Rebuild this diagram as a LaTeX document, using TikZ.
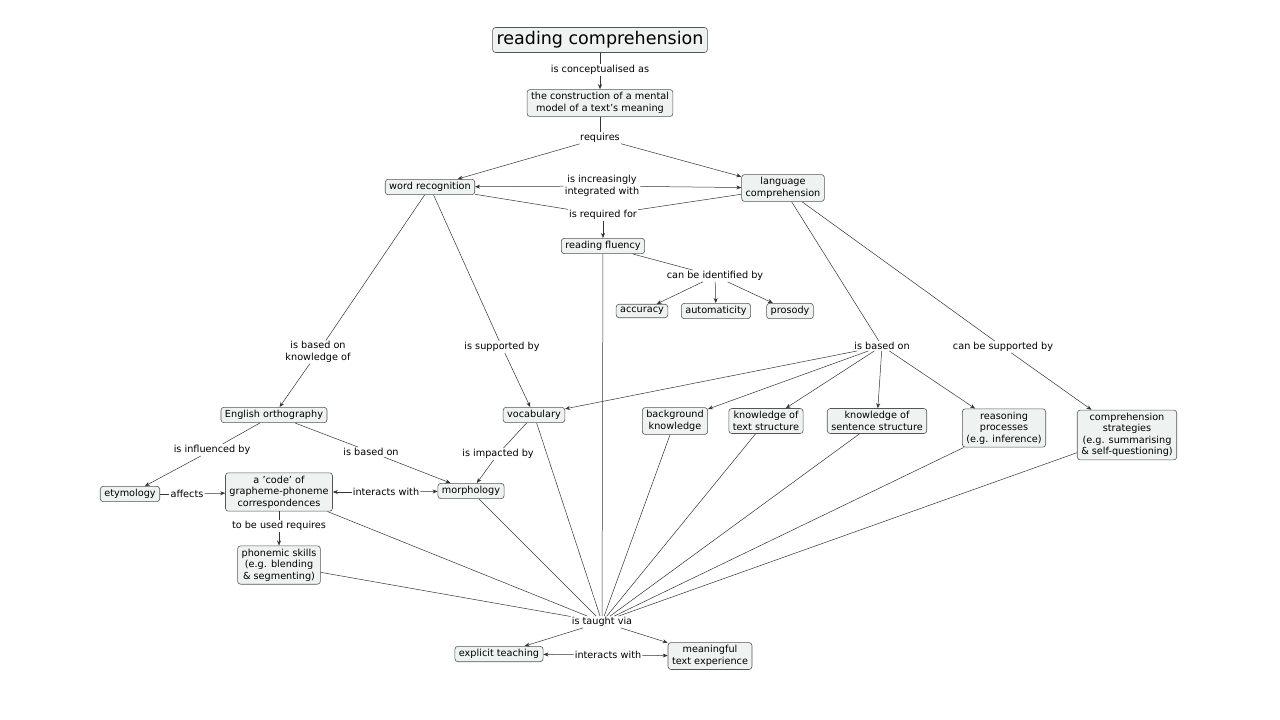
\documentclass[tikz,border=0pt]{standalone}
\usepackage{fontspec}
\setmainfont{DejaVu Sans}
\usetikzlibrary{arrows.meta}
\definecolor{cfill}{HTML}{EEF3F1}
\definecolor{cline}{HTML}{555555}
\begin{document}
\begin{tikzpicture}[x=1pt,y=-1pt,
 c/.style={draw=cline,fill=cfill,rounded corners=3pt,align=center,font=\fontsize{9.7}{11.5}\selectfont,inner xsep=4pt,inner ysep=3pt,line width=0.6pt},
 l/.style={fill=white,align=center,font=\fontsize{9.7}{11.5}\selectfont,inner sep=1pt},
 ln/.style={draw=black!80,line width=0.5pt},
 ar/.style={ln,-{Stealth[length=5pt,width=4pt]}}]
\useasboundingbox (0,0) rectangle (1280,720);
\node[c,font=\fontsize{17.5}{20}\selectfont,inner sep=4pt] (title) at (600,40) {reading comprehension};
\node[c] (mental) at (600,103) {the construction of a mental\\model of a text's meaning};
\node[l] (lconc) at (600,70) {is conceptualised as};
\node[l] (lreq) at (600,138) {requires};
\node[c] (wr) at (430,187) {word recognition};
\node[c] (lc) at (783,188) {language\\comprehension};
\node[l] (linteg) at (602,186) {is increasingly\\integrated with};
\node[l] (lreqfor) at (603,215) {is required for};
\node[c] (rf) at (603,246) {reading fluency};
\node[l] (lcanid) at (715,276) {can be identified by};
\node[c] (acc) at (642,311) {accuracy};
\node[c] (aut) at (716,311) {automaticity};
\node[c] (pros) at (790,311) {prosody};
\node[l] (lbk) at (318,352) {is based on\\knowledge of};
\node[l] (lsup) at (502,347) {is supported by};
\node[l] (lbased) at (882,346) {is based on};
\node[l] (lcansup) at (1003,347) {can be supported by};
\node[c] (eo) at (274,415) {English orthography};
\node[c] (voc) at (534,415) {vocabulary};
\node[c] (bk) at (675,421) {background\\knowledge};
\node[c] (kts) at (766,421) {knowledge of\\text structure};
\node[c] (kss) at (877,421) {knowledge of\\sentence structure};
\node[c] (rp) at (1004,428) {reasoning\\processes\\(e.g. inference)};
\node[c] (cs) at (1127,435) {comprehension\\strategies\\(e.g. summarising\\\& self-questioning)};
\node[l] (linfl) at (212,450) {is influenced by};
\node[l] (lbased2) at (371,452) {is based on};
\node[l] (limp) at (498,454) {is impacted by};
\node[c] (ety) at (130,494) {etymology};
\node[c] (code) at (279,492) {a 'code' of\\grapheme-phoneme\\correspondences};
\node[c] (morph) at (471,491) {morphology};
\node[l] (laff) at (187,494) {affects};
\node[l] (lint) at (386,492) {interacts with};
\node[l] (lused) at (279,526) {to be used requires};
\node[c] (phon) at (279,565) {phonemic skills\\(e.g. blending\\\& segmenting)};
\node[l] (ltaught) at (602,622) {is taught via};
\node[c] (et) at (499,654) {explicit teaching};
\node[c] (mte) at (710,656) {meaningful\\text experience};
\node[l] (lint2) at (608,655) {interacts with};
% links
\draw[ln] (title) -- (lconc); \draw[ar] (lconc) -- (mental);
\draw[ln] (mental) -- (lreq); \draw[ar] (lreq) -- (wr); \draw[ar] (lreq) -- (lc);
\draw[ar] (linteg) -- (wr); \draw[ar] (linteg) -- (lc);
\draw[ln] (wr) -- (lreqfor); \draw[ln] (lc) -- (lreqfor); \draw[ar] (lreqfor) -- (rf);
\draw[ln] (rf) -- (lcanid); \draw[ar] (lcanid) -- (acc); \draw[ar] (lcanid) -- (aut); \draw[ar] (lcanid) -- (pros);
\draw[ln] (wr) -- (lbk); \draw[ar] (lbk) -- (eo);
\draw[ln] (wr) -- (lsup); \draw[ar] (lsup) -- (voc);
\draw[ln] (lc) -- (lbased);
\foreach \t in {voc,bk,kts,kss,rp} \draw[ar] (lbased) -- (\t);
\draw[ln] (lc) -- (lcansup); \draw[ar] (lcansup) -- (cs);
\draw[ln] (eo) -- (linfl); \draw[ar] (linfl) -- (ety);
\draw[ln] (eo) -- (lbased2); \draw[ar] (lbased2) -- (morph);
\draw[ln] (ety) -- (laff); \draw[ar] (laff) -- (code);
\draw[ar] (lint) -- (code); \draw[ar] (lint) -- (morph);
\draw[ln] (voc) -- (limp); \draw[ar] (limp) -- (morph);
\draw[ln] (code) -- (lused); \draw[ar] (lused) -- (phon);
\foreach \s in {rf,phon,code,morph,voc,bk,kts,kss,rp,cs} \draw[ln] (\s) -- (ltaught);
\draw[ar] (ltaught) -- (et); \draw[ar] (ltaught) -- (mte);
\draw[ar] (lint2) -- (et); \draw[ar] (lint2) -- (mte);
\end{tikzpicture}
\end{document}
